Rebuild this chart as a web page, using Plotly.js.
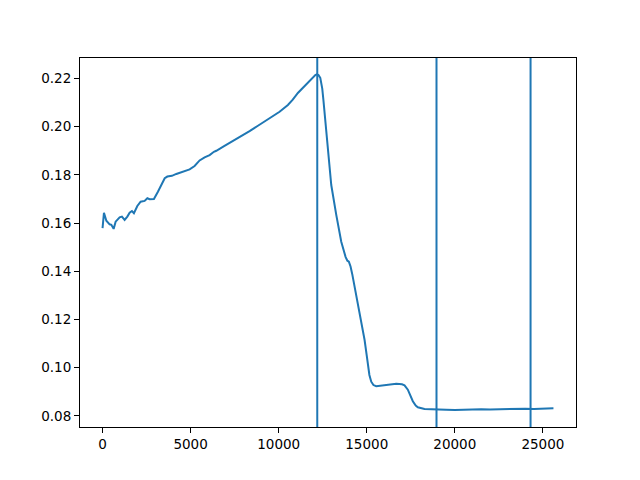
<!DOCTYPE html>
<html>
<head>
<meta charset="utf-8">
<script src="https://cdn.plot.ly/plotly-3.0.1.min.js"></script>
<style>html,body{margin:0;padding:0;background:#fff;}#chart{width:640px;height:480px;}</style>
</head>
<body>
<div id="chart"></div>
<script>
const xValues = [0, 80, 216, 403, 500, 630, 743, 970, 1100, 1254, 1407, 1538, 1669, 1782, 1975, 2162, 2389, 2543, 2673, 2917, 3144, 3337, 3530, 3678, 3939, 4188, 4506, 4699, 4943, 5227, 5511, 5795, 6079, 6322, 6459, 6900, 7401, 7850, 8348, 8800, 9296, 9700, 10051, 10522, 10800, 11090, 11566, 11800, 11941, 12080, 12168, 12260, 12361, 12420, 12474, 12540, 12605, 12700, 12792, 12985, 13269, 13553, 13797, 13900, 13984, 14080, 14177, 14308, 14631, 14875, 15000, 15062, 15150, 15255, 15380, 15539, 15914, 16294, 16674, 17000, 17145, 17332, 17616, 17780, 17900, 18280, 18944, 19512, 20000, 20500, 21000, 21500, 22000, 22500, 23000, 23500, 24000, 24500, 25000, 25300, 25600];
const yValues = [0.1579, 0.1643, 0.1610, 0.1595, 0.1593, 0.1576, 0.1606, 0.1624, 0.1627, 0.1613, 0.1627, 0.1643, 0.1650, 0.1641, 0.1671, 0.1689, 0.1692, 0.1703, 0.1699, 0.1700, 0.1730, 0.1758, 0.1786, 0.1793, 0.1796, 0.1804, 0.1811, 0.1817, 0.1823, 0.1837, 0.1860, 0.1873, 0.1882, 0.1896, 0.1900, 0.1919, 0.1940, 0.1960, 0.1982, 0.2003, 0.2025, 0.2045, 0.2062, 0.2090, 0.2112, 0.2140, 0.2176, 0.2193, 0.2205, 0.2214, 0.2217, 0.2214, 0.2203, 0.2185, 0.2158, 0.2110, 0.2055, 0.1965, 0.1885, 0.1758, 0.1634, 0.1523, 0.1460, 0.1444, 0.1440, 0.1420, 0.1388, 0.1337, 0.1227, 0.1116, 0.1050, 0.1010, 0.0970, 0.0942, 0.0928, 0.0923, 0.0927, 0.0930, 0.0933, 0.0931, 0.0927, 0.0909, 0.0861, 0.0843, 0.0836, 0.0829, 0.0826, 0.0826, 0.0825, 0.0827, 0.0826, 0.0828, 0.0827, 0.0828, 0.0827, 0.0829, 0.0830, 0.0829, 0.0831, 0.0831, 0.0832];
const vLines = [12190, 18960, 24300];
const xTicks = [0, 5000, 10000, 15000, 20000, 25000];
const yTicks = [0.08, 0.10, 0.12, 0.14, 0.16, 0.18, 0.20, 0.22];

const blue = '#1f77b4';
const shapes = vLines.map(v => ({
  type: 'line', xref: 'x', yref: 'paper', x0: v, x1: v, y0: 0, y1: 1,
  line: {color: blue, width: 2}
}));

const axisCommon = {
  showline: true, mirror: true, linecolor: '#000', linewidth: 1,
  ticks: 'outside', ticklen: 5, tickwidth: 1, tickcolor: '#000',
  showgrid: false, zeroline: false,
  tickfont: {family: 'DejaVu Sans', size: 13.5, color: '#000'}
};

Plotly.newPlot('chart', [{
  x: xValues, y: yValues, type: 'scatter', mode: 'lines',
  line: {color: blue, width: 2}, hoverinfo: 'none'
}], {
  width: 640, height: 480,
  margin: {l: 80, r: 64, t: 58, b: 53},
  paper_bgcolor: '#fff', plot_bgcolor: '#fff',
  showlegend: false,
  shapes: shapes,
  xaxis: Object.assign({}, axisCommon, {range: [-1280, 26880], tickvals: xTicks, ticktext: xTicks.map(String)}),
  yaxis: Object.assign({}, axisCommon, {range: [0.0754, 0.2285], tickvals: yTicks, ticktext: yTicks.map(v => v.toFixed(2))})
}, {staticPlot: true});
</script>
</body>
</html>
